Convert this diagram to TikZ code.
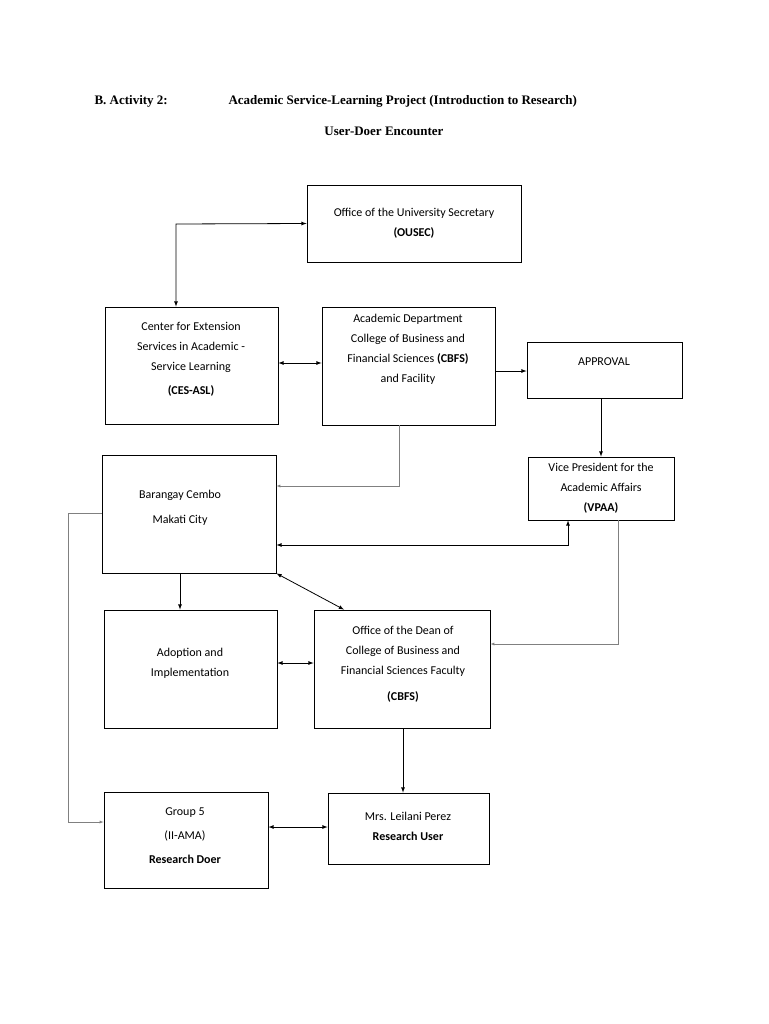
\documentclass[tikz,border=0pt]{standalone}
\usepackage{fontspec}
\setmainfont{Carlito}
\newfontfamily\titlefont{Liberation Serif}
\usetikzlibrary{positioning}
\tikzset{
  box/.style={draw, thick, align=center, inner sep=0pt, font=\fontsize{12}{20}\selectfont},
  link/.style={-latex, thick},
  twolink/.style={latex-latex, thick},
  greylink/.style={-latex, gray, thin}
}
\newcommand{\boxat}[5]{% name, x1, y1, x2, y2
  \node[box, minimum width=#4-#2, minimum height=#5-#3] (#1) at ({(#2+#4)/2},{(#3+#5)/2}) {};}
\begin{document}
\begin{tikzpicture}[x=1pt,y=-1pt]
  \useasboundingbox (0,0) rectangle (768,1024);
  \fill[white] (0,0) rectangle (768,1024);
  % title
  \node[anchor=west, font=\titlefont\bfseries\fontsize{13}{15}\selectfont] (lbl) at (91,101) {B. Activity 2:};
  \node[anchor=west, font=\titlefont\bfseries\fontsize{13}{15}\selectfont] (ttl) at (225,101) {Academic Service-Learning Project (Introduction to Research)};
  \node[font=\titlefont\bfseries\fontsize{13}{15}\selectfont] (sub) at (384,131) {User-Doer Encounter};
  % boxes
  \boxat{ousec}{307}{185}{521}{262}
  \boxat{ces}{105}{307}{278}{424}
  \boxat{dept}{322}{307}{495}{425}
  \boxat{appr}{527}{342}{682}{398}
  \boxat{vpaa}{528}{457}{674}{520}
  \boxat{brgy}{102}{455}{276}{573}
  \boxat{adopt}{104}{610}{277}{728}
  \boxat{dean}{314}{610}{490}{728}
  \boxat{grp}{104}{792}{268}{888}
  \boxat{user}{328}{793}{489}{864}
  % texts
  \node[box, draw=none] at (414,223) {Office of the University Secretary\\\textbf{(OUSEC)}};
  \node[box, draw=none] at (191,359) {Center for Extension\\Services in Academic -\\Service Learning\\[4pt]\textbf{(CES-ASL)}};
  \node[box, draw=none] at (408,349) {Academic Department\\College of Business and\\Financial Sciences \textbf{(CBFS)}\\and Facility};
  \node[box, draw=none] at (604,362) {APPROVAL};
  \node[box, draw=none] at (601,488) {Vice President for the\\Academic Affairs\\\textbf{(VPAA)}};
  \node[box, draw=none] at (180,508) {Barangay Cembo\\[5pt]Makati City};
  \node[box, draw=none] at (190,663) {Adoption and\\Implementation};
  \node[box, draw=none] at (403,664) {Office of the Dean of\\College of Business and\\Financial Sciences Faculty\\[6pt]\textbf{(CBFS)}};
  \node[box, draw=none] at (185,836) {Group 5\\[4pt](II-AMA)\\[4pt]\textbf{Research Doer}};
  \node[box, draw=none] at (408,826) {Mrs. Leilani Perez\\\textbf{Research User}};
  % connectors
  \draw[twolink] (ousec.west) -- (176,224) -- (ces.north -| 176,0);
  \draw[twolink] (ces.east |- 0,363) -- (dept.west |- 0,363);
  \draw[link] (dept.east |- 0,371) -- (appr.west |- 0,371);
  \draw[link] (appr.south -| 601,0) -- (vpaa.north -| 601,0);
  \draw[greylink] (dept.south -| 399,0) -- (399,486) -- (brgy.east |- 0,486);
  \draw[twolink] (vpaa.south -| 568,0) -- (568,545) -- (brgy.east |- 0,545);
  \draw[greylink] (vpaa.south -| 618,0) -- (618,644) -- (dean.east |- 0,644);
  \draw[link] (brgy.south -| 180,0) -- (adopt.north -| 180,0);
  \draw[twolink] (brgy.south east) -- (dean.north -| 344,0);
  \draw[twolink] (adopt.east |- 0,663) -- (dean.west |- 0,663);
  \draw[link] (dean.south -| 403,0) -- (user.north -| 403,0);
  \draw[twolink] (grp.east |- 0,827) -- (user.west |- 0,827);
  \draw[greylink] (brgy.west |- 0,513) -- (68,513) -- (68,822) -- (grp.west |- 0,822);
\end{tikzpicture}
\end{document}
